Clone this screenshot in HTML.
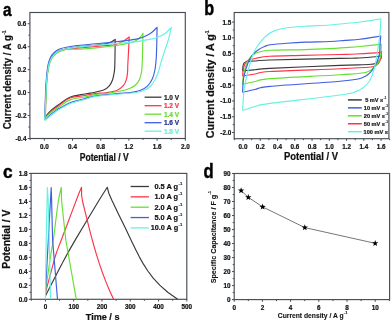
<!DOCTYPE html>
<html><head><meta charset="utf-8"><style>
html,body{margin:0;padding:0;background:#fff;}
svg{display:block;font-family:"Liberation Sans", sans-serif;will-change:transform;}
</style></head><body>
<svg width="392" height="322" viewBox="0 0 392 322">
<rect width="392" height="322" fill="#fff"/>
<text transform="translate(3.00,16.00) scale(0.870,1)" font-size="17.60" font-weight="bold" fill="#000" stroke="#000" stroke-width="0.45">a</text>
<text transform="translate(204.30,15.00) scale(0.830,1)" font-size="19.50" font-weight="bold" fill="#000" stroke="#000" stroke-width="0.45">b</text>
<text transform="translate(3.00,177.90) scale(0.920,1)" font-size="18.80" font-weight="bold" fill="#000" stroke="#000" stroke-width="0.45">c</text>
<text transform="translate(203.40,178.20) scale(0.850,1)" font-size="19.50" font-weight="bold" fill="#000" stroke="#000" stroke-width="0.45">d</text>
<rect x="29.90" y="12.50" width="155.40" height="126.00" fill="none" stroke="#474c56" stroke-width="1.15"/>
<line x1="30.20" y1="138.50" x2="30.20" y2="140.00" stroke="#474c56" stroke-width="1"/>
<line x1="44.30" y1="138.50" x2="44.30" y2="140.70" stroke="#474c56" stroke-width="1"/>
<line x1="58.40" y1="138.50" x2="58.40" y2="140.00" stroke="#474c56" stroke-width="1"/>
<line x1="72.50" y1="138.50" x2="72.50" y2="140.70" stroke="#474c56" stroke-width="1"/>
<line x1="86.60" y1="138.50" x2="86.60" y2="140.00" stroke="#474c56" stroke-width="1"/>
<line x1="100.70" y1="138.50" x2="100.70" y2="140.70" stroke="#474c56" stroke-width="1"/>
<line x1="114.80" y1="138.50" x2="114.80" y2="140.00" stroke="#474c56" stroke-width="1"/>
<line x1="128.90" y1="138.50" x2="128.90" y2="140.70" stroke="#474c56" stroke-width="1"/>
<line x1="143.00" y1="138.50" x2="143.00" y2="140.00" stroke="#474c56" stroke-width="1"/>
<line x1="157.10" y1="138.50" x2="157.10" y2="140.70" stroke="#474c56" stroke-width="1"/>
<line x1="171.20" y1="138.50" x2="171.20" y2="140.00" stroke="#474c56" stroke-width="1"/>
<line x1="185.30" y1="138.50" x2="185.30" y2="140.70" stroke="#474c56" stroke-width="1"/>
<line x1="27.70" y1="138.52" x2="29.90" y2="138.52" stroke="#474c56" stroke-width="1"/>
<line x1="28.40" y1="127.04" x2="29.90" y2="127.04" stroke="#474c56" stroke-width="1"/>
<line x1="27.70" y1="115.56" x2="29.90" y2="115.56" stroke="#474c56" stroke-width="1"/>
<line x1="28.40" y1="104.08" x2="29.90" y2="104.08" stroke="#474c56" stroke-width="1"/>
<line x1="27.70" y1="92.60" x2="29.90" y2="92.60" stroke="#474c56" stroke-width="1"/>
<line x1="28.40" y1="81.12" x2="29.90" y2="81.12" stroke="#474c56" stroke-width="1"/>
<line x1="27.70" y1="69.64" x2="29.90" y2="69.64" stroke="#474c56" stroke-width="1"/>
<line x1="28.40" y1="58.16" x2="29.90" y2="58.16" stroke="#474c56" stroke-width="1"/>
<line x1="27.70" y1="46.68" x2="29.90" y2="46.68" stroke="#474c56" stroke-width="1"/>
<line x1="28.40" y1="35.20" x2="29.90" y2="35.20" stroke="#474c56" stroke-width="1"/>
<line x1="27.70" y1="23.72" x2="29.90" y2="23.72" stroke="#474c56" stroke-width="1"/>
<text transform="translate(44.30,148.50) scale(0.920,1)" font-size="6.90" text-anchor="middle" font-weight="bold" fill="#111" stroke="#111" stroke-width="0.22">0.0</text>
<text transform="translate(72.50,148.50) scale(0.920,1)" font-size="6.90" text-anchor="middle" font-weight="bold" fill="#111" stroke="#111" stroke-width="0.22">0.4</text>
<text transform="translate(100.70,148.50) scale(0.920,1)" font-size="6.90" text-anchor="middle" font-weight="bold" fill="#111" stroke="#111" stroke-width="0.22">0.8</text>
<text transform="translate(128.90,148.50) scale(0.920,1)" font-size="6.90" text-anchor="middle" font-weight="bold" fill="#111" stroke="#111" stroke-width="0.22">1.2</text>
<text transform="translate(157.10,148.50) scale(0.920,1)" font-size="6.90" text-anchor="middle" font-weight="bold" fill="#111" stroke="#111" stroke-width="0.22">1.6</text>
<text transform="translate(185.30,148.50) scale(0.920,1)" font-size="6.90" text-anchor="middle" font-weight="bold" fill="#111" stroke="#111" stroke-width="0.22">2.0</text>
<text transform="translate(26.40,141.02) scale(0.920,1)" font-size="6.90" text-anchor="end" font-weight="bold" fill="#111" stroke="#111" stroke-width="0.22">-0.4</text>
<text transform="translate(26.40,118.06) scale(0.920,1)" font-size="6.90" text-anchor="end" font-weight="bold" fill="#111" stroke="#111" stroke-width="0.22">-0.2</text>
<text transform="translate(26.40,95.10) scale(0.920,1)" font-size="6.90" text-anchor="end" font-weight="bold" fill="#111" stroke="#111" stroke-width="0.22">0.0</text>
<text transform="translate(26.40,72.14) scale(0.920,1)" font-size="6.90" text-anchor="end" font-weight="bold" fill="#111" stroke="#111" stroke-width="0.22">0.2</text>
<text transform="translate(26.40,49.18) scale(0.920,1)" font-size="6.90" text-anchor="end" font-weight="bold" fill="#111" stroke="#111" stroke-width="0.22">0.4</text>
<text transform="translate(26.40,26.22) scale(0.920,1)" font-size="6.90" text-anchor="end" font-weight="bold" fill="#111" stroke="#111" stroke-width="0.22">0.6</text>
<text x="104.20" y="160.50" font-size="10.00" text-anchor="middle" font-weight="bold" fill="#111" textLength="49" lengthAdjust="spacingAndGlyphs" stroke="#111" stroke-width="0.22">Potential / V</text>
<text transform="translate(11.2,129.2) rotate(-90)" font-size="10.6" font-weight="bold" fill="#111" textLength="94.2" lengthAdjust="spacingAndGlyphs" stroke="#111" stroke-width="0.22">Current density / A g</text>
<text transform="translate(5.8,34.8) rotate(-90)" font-size="5.0" font-weight="bold" fill="#222" stroke="#222" stroke-width="0.1">-1</text>
<path d="M45.20 117.00 C45.27 114.17 45.37 106.17 45.60 100.00 C45.83 93.83 46.17 85.47 46.60 80.00 C47.03 74.53 47.63 70.42 48.20 67.20 C48.77 63.98 49.28 62.53 50.00 60.70 C50.72 58.87 51.50 57.53 52.50 56.20 C53.50 54.87 54.65 53.70 56.00 52.70 C57.35 51.70 58.60 50.90 60.60 50.20 C62.60 49.50 64.77 49.10 68.00 48.50 C71.23 47.90 75.33 47.15 80.00 46.60 C84.67 46.05 91.50 45.72 96.00 45.20 C100.50 44.68 104.33 44.12 107.00 43.50 C109.67 42.88 110.63 42.18 112.00 41.50 C113.37 40.82 114.67 39.75 115.20 39.40 L115.20 39.60 C115.17 42.17 115.08 50.27 115.00 55.00 C114.92 59.73 114.87 64.92 114.70 68.00 C114.53 71.08 114.38 71.47 114.00 73.50 C113.62 75.53 113.22 78.08 112.40 80.20 C111.58 82.32 110.55 84.57 109.10 86.20 C107.65 87.83 106.05 89.00 103.70 90.00 C101.35 91.00 98.12 91.53 95.00 92.20 C91.88 92.87 89.17 93.17 85.00 94.00 C80.83 94.83 74.33 95.47 70.00 97.20 C65.67 98.93 62.08 102.27 59.00 104.40 C55.92 106.53 53.80 107.90 51.50 110.00 C49.20 112.10 46.25 115.83 45.20 117.00" fill="none" stroke="#3a3a3a" stroke-width="1.15" stroke-linejoin="round"/>
<path d="M45.40 117.00 C45.47 114.17 45.57 106.17 45.80 100.00 C46.03 93.83 46.37 85.40 46.80 80.00 C47.23 74.60 47.83 70.75 48.40 67.60 C48.97 64.45 49.48 62.93 50.20 61.10 C50.92 59.27 51.70 57.93 52.70 56.60 C53.70 55.27 54.85 54.10 56.20 53.10 C57.55 52.10 58.80 51.30 60.80 50.60 C62.80 49.90 65.00 49.33 68.20 48.90 C71.40 48.47 75.37 48.40 80.00 48.00 C84.63 47.60 91.33 46.93 96.00 46.50 C100.67 46.07 104.78 45.73 108.00 45.40 C111.22 45.07 112.72 45.23 115.30 44.50 C117.88 43.77 121.18 42.27 123.50 41.00 C125.82 39.73 128.25 37.58 129.20 36.90 L129.20 36.80 C129.10 39.00 128.83 45.30 128.60 50.00 C128.37 54.70 127.97 61.42 127.80 65.00 C127.63 68.58 127.82 69.15 127.60 71.50 C127.38 73.85 127.22 76.73 126.50 79.10 C125.78 81.47 124.93 83.80 123.30 85.70 C121.67 87.60 119.60 89.33 116.70 90.50 C113.80 91.67 109.52 92.20 105.90 92.70 C102.28 93.20 98.48 93.03 95.00 93.50 C91.52 93.97 89.17 94.75 85.00 95.50 C80.83 96.25 74.33 96.33 70.00 98.00 C65.67 99.67 62.08 103.33 59.00 105.50 C55.92 107.67 53.77 109.08 51.50 111.00 C49.23 112.92 46.42 116.00 45.40 117.00" fill="none" stroke="#ff3348" stroke-width="1.15" stroke-linejoin="round"/>
<path d="M45.20 118.00 C45.32 115.00 45.62 106.33 45.90 100.00 C46.18 93.67 46.47 85.33 46.90 80.00 C47.33 74.67 47.93 71.08 48.50 68.00 C49.07 64.92 49.58 63.33 50.30 61.50 C51.02 59.67 51.80 58.33 52.80 57.00 C53.80 55.67 54.95 54.50 56.30 53.50 C57.65 52.50 58.90 51.70 60.90 51.00 C62.90 50.30 65.12 49.60 68.30 49.30 C71.48 49.00 75.38 49.43 80.00 49.20 C84.62 48.97 89.67 48.57 96.00 47.90 C102.33 47.23 112.43 46.03 118.00 45.20 C123.57 44.37 126.30 43.73 129.40 42.90 C132.50 42.07 134.75 41.22 136.60 40.20 C138.45 39.18 139.43 37.95 140.50 36.80 C141.57 35.65 142.58 33.88 143.00 33.30 L143.00 33.30 C142.93 36.08 142.80 43.88 142.60 50.00 C142.40 56.12 142.35 65.02 141.80 70.00 C141.25 74.98 140.43 77.32 139.30 79.90 C138.17 82.48 136.55 84.12 135.00 85.50 C133.45 86.88 131.78 87.42 130.00 88.20 C128.22 88.98 127.42 89.45 124.30 90.20 C121.18 90.95 116.18 91.97 111.30 92.70 C106.42 93.43 99.38 93.88 95.00 94.60 C90.62 95.32 89.17 96.12 85.00 97.00 C80.83 97.88 74.33 98.23 70.00 99.90 C65.67 101.57 62.08 104.98 59.00 107.00 C55.92 109.02 53.80 110.17 51.50 112.00 C49.20 113.83 46.25 117.00 45.20 118.00" fill="none" stroke="#66e030" stroke-width="1.15" stroke-linejoin="round"/>
<path d="M44.90 120.00 C44.97 116.67 45.07 106.67 45.30 100.00 C45.53 93.33 45.87 85.72 46.30 80.00 C46.73 74.28 47.33 69.17 47.90 65.70 C48.47 62.23 48.98 61.03 49.70 59.20 C50.42 57.37 51.20 56.03 52.20 54.70 C53.20 53.37 54.35 52.20 55.70 51.20 C57.05 50.20 58.30 49.40 60.30 48.70 C62.30 48.00 64.42 47.57 67.70 47.00 C70.98 46.43 75.28 45.83 80.00 45.30 C84.72 44.77 89.67 44.43 96.00 43.80 C102.33 43.17 112.43 42.12 118.00 41.50 C123.57 40.88 125.83 40.62 129.40 40.10 C132.97 39.58 136.53 39.15 139.40 38.40 C142.27 37.65 144.45 36.67 146.60 35.60 C148.75 34.53 150.55 33.38 152.30 32.00 C154.05 30.62 156.30 28.08 157.10 27.30 L157.10 27.30 C157.02 31.08 156.77 44.55 156.60 50.00 C156.43 55.45 156.38 56.67 156.10 60.00 C155.82 63.33 155.52 66.88 154.90 70.00 C154.28 73.12 153.65 76.02 152.40 78.70 C151.15 81.38 149.47 84.13 147.40 86.10 C145.33 88.07 142.90 89.42 140.00 90.50 C137.10 91.58 133.88 92.08 130.00 92.60 C126.12 93.12 122.53 93.03 116.70 93.60 C110.87 94.17 100.28 95.18 95.00 96.00 C89.72 96.82 89.17 97.38 85.00 98.50 C80.83 99.62 74.33 101.02 70.00 102.70 C65.67 104.38 62.08 106.72 59.00 108.60 C55.92 110.48 53.85 112.10 51.50 114.00 C49.15 115.90 46.00 119.00 44.90 120.00" fill="none" stroke="#3f5ee0" stroke-width="1.15" stroke-linejoin="round"/>
<path d="M44.80 120.50 C44.95 117.08 45.38 106.75 45.70 100.00 C46.02 93.25 46.27 85.45 46.70 80.00 C47.13 74.55 47.73 70.50 48.30 67.30 C48.87 64.10 49.38 62.63 50.10 60.80 C50.82 58.97 51.60 57.63 52.60 56.30 C53.60 54.97 54.75 53.80 56.10 52.80 C57.45 51.80 58.70 51.00 60.70 50.30 C62.70 49.60 64.88 49.22 68.10 48.60 C71.32 47.98 75.35 47.15 80.00 46.60 C84.65 46.05 89.67 45.83 96.00 45.30 C102.33 44.77 111.95 43.92 118.00 43.40 C124.05 42.88 127.53 42.78 132.30 42.20 C137.07 41.62 142.55 40.65 146.60 39.90 C150.65 39.15 153.52 38.78 156.60 37.70 C159.68 36.62 162.63 35.08 165.10 33.40 C167.57 31.72 170.35 28.57 171.40 27.60 L171.40 27.60 C170.88 29.67 169.37 36.27 168.30 40.00 C167.23 43.73 166.10 46.67 165.00 50.00 C163.90 53.33 162.77 56.47 161.70 60.00 C160.63 63.53 159.63 68.08 158.60 71.20 C157.57 74.32 156.75 76.32 155.50 78.70 C154.25 81.08 152.87 83.63 151.10 85.50 C149.33 87.37 147.38 88.73 144.90 89.90 C142.42 91.07 140.90 91.78 136.20 92.50 C131.50 93.22 123.57 93.53 116.70 94.20 C109.83 94.87 100.28 95.62 95.00 96.50 C89.72 97.38 89.17 98.30 85.00 99.50 C80.83 100.70 74.33 102.03 70.00 103.70 C65.67 105.37 62.08 107.62 59.00 109.50 C55.92 111.38 53.87 113.17 51.50 115.00 C49.13 116.83 45.92 119.58 44.80 120.50" fill="none" stroke="#66f2e2" stroke-width="1.15" stroke-linejoin="round"/>
<line x1="144.6" y1="97.20" x2="161.5" y2="97.20" stroke="#3a3a3a" stroke-width="1.3"/>
<text x="163.90" y="99.50" font-size="6.40" text-anchor="start" font-weight="bold" fill="#222" textLength="15.2" lengthAdjust="spacingAndGlyphs" stroke="#222" stroke-width="0.22">1.0 V</text>
<line x1="144.6" y1="105.70" x2="161.5" y2="105.70" stroke="#ff3348" stroke-width="1.3"/>
<text x="163.90" y="108.00" font-size="6.40" text-anchor="start" font-weight="bold" fill="#ff3348" textLength="15.2" lengthAdjust="spacingAndGlyphs" stroke="#ff3348" stroke-width="0.22">1.2 V</text>
<line x1="144.6" y1="114.20" x2="161.5" y2="114.20" stroke="#66e030" stroke-width="1.3"/>
<text x="163.90" y="116.50" font-size="6.40" text-anchor="start" font-weight="bold" fill="#66e030" textLength="15.2" lengthAdjust="spacingAndGlyphs" stroke="#66e030" stroke-width="0.22">1.4 V</text>
<line x1="144.6" y1="122.70" x2="161.5" y2="122.70" stroke="#3f5ee0" stroke-width="1.3"/>
<text x="163.90" y="125.00" font-size="6.40" text-anchor="start" font-weight="bold" fill="#223388" textLength="15.2" lengthAdjust="spacingAndGlyphs" stroke="#223388" stroke-width="0.22">1.6 V</text>
<line x1="144.6" y1="131.20" x2="161.5" y2="131.20" stroke="#66f2e2" stroke-width="1.3"/>
<text x="163.90" y="133.50" font-size="6.40" text-anchor="start" font-weight="bold" fill="#66f2e2" textLength="15.2" lengthAdjust="spacingAndGlyphs" stroke="#66f2e2" stroke-width="0.22">1.8 V</text>
<rect x="234.20" y="12.50" width="154.70" height="126.20" fill="none" stroke="#474c56" stroke-width="1.15"/>
<line x1="234.37" y1="138.70" x2="234.37" y2="140.20" stroke="#474c56" stroke-width="1"/>
<line x1="243.00" y1="138.70" x2="243.00" y2="140.90" stroke="#474c56" stroke-width="1"/>
<line x1="251.63" y1="138.70" x2="251.63" y2="140.20" stroke="#474c56" stroke-width="1"/>
<line x1="260.26" y1="138.70" x2="260.26" y2="140.90" stroke="#474c56" stroke-width="1"/>
<line x1="268.89" y1="138.70" x2="268.89" y2="140.20" stroke="#474c56" stroke-width="1"/>
<line x1="277.52" y1="138.70" x2="277.52" y2="140.90" stroke="#474c56" stroke-width="1"/>
<line x1="286.15" y1="138.70" x2="286.15" y2="140.20" stroke="#474c56" stroke-width="1"/>
<line x1="294.78" y1="138.70" x2="294.78" y2="140.90" stroke="#474c56" stroke-width="1"/>
<line x1="303.41" y1="138.70" x2="303.41" y2="140.20" stroke="#474c56" stroke-width="1"/>
<line x1="312.04" y1="138.70" x2="312.04" y2="140.90" stroke="#474c56" stroke-width="1"/>
<line x1="320.67" y1="138.70" x2="320.67" y2="140.20" stroke="#474c56" stroke-width="1"/>
<line x1="329.30" y1="138.70" x2="329.30" y2="140.90" stroke="#474c56" stroke-width="1"/>
<line x1="337.93" y1="138.70" x2="337.93" y2="140.20" stroke="#474c56" stroke-width="1"/>
<line x1="346.56" y1="138.70" x2="346.56" y2="140.90" stroke="#474c56" stroke-width="1"/>
<line x1="355.19" y1="138.70" x2="355.19" y2="140.20" stroke="#474c56" stroke-width="1"/>
<line x1="363.82" y1="138.70" x2="363.82" y2="140.90" stroke="#474c56" stroke-width="1"/>
<line x1="372.45" y1="138.70" x2="372.45" y2="140.20" stroke="#474c56" stroke-width="1"/>
<line x1="381.08" y1="138.70" x2="381.08" y2="140.90" stroke="#474c56" stroke-width="1"/>
<line x1="389.71" y1="138.70" x2="389.71" y2="140.20" stroke="#474c56" stroke-width="1"/>
<line x1="232.00" y1="132.50" x2="234.20" y2="132.50" stroke="#474c56" stroke-width="1"/>
<line x1="232.70" y1="124.61" x2="234.20" y2="124.61" stroke="#474c56" stroke-width="1"/>
<line x1="232.00" y1="116.73" x2="234.20" y2="116.73" stroke="#474c56" stroke-width="1"/>
<line x1="232.70" y1="108.84" x2="234.20" y2="108.84" stroke="#474c56" stroke-width="1"/>
<line x1="232.00" y1="100.95" x2="234.20" y2="100.95" stroke="#474c56" stroke-width="1"/>
<line x1="232.70" y1="93.06" x2="234.20" y2="93.06" stroke="#474c56" stroke-width="1"/>
<line x1="232.00" y1="85.18" x2="234.20" y2="85.18" stroke="#474c56" stroke-width="1"/>
<line x1="232.70" y1="77.29" x2="234.20" y2="77.29" stroke="#474c56" stroke-width="1"/>
<line x1="232.00" y1="69.40" x2="234.20" y2="69.40" stroke="#474c56" stroke-width="1"/>
<line x1="232.70" y1="61.51" x2="234.20" y2="61.51" stroke="#474c56" stroke-width="1"/>
<line x1="232.00" y1="53.63" x2="234.20" y2="53.63" stroke="#474c56" stroke-width="1"/>
<line x1="232.70" y1="45.74" x2="234.20" y2="45.74" stroke="#474c56" stroke-width="1"/>
<line x1="232.00" y1="37.85" x2="234.20" y2="37.85" stroke="#474c56" stroke-width="1"/>
<line x1="232.70" y1="29.96" x2="234.20" y2="29.96" stroke="#474c56" stroke-width="1"/>
<line x1="232.00" y1="22.08" x2="234.20" y2="22.08" stroke="#474c56" stroke-width="1"/>
<text transform="translate(243.00,148.70) scale(0.920,1)" font-size="6.90" text-anchor="middle" font-weight="bold" fill="#111" stroke="#111" stroke-width="0.22">0.0</text>
<text transform="translate(260.26,148.70) scale(0.920,1)" font-size="6.90" text-anchor="middle" font-weight="bold" fill="#111" stroke="#111" stroke-width="0.22">0.2</text>
<text transform="translate(277.52,148.70) scale(0.920,1)" font-size="6.90" text-anchor="middle" font-weight="bold" fill="#111" stroke="#111" stroke-width="0.22">0.4</text>
<text transform="translate(294.78,148.70) scale(0.920,1)" font-size="6.90" text-anchor="middle" font-weight="bold" fill="#111" stroke="#111" stroke-width="0.22">0.6</text>
<text transform="translate(312.04,148.70) scale(0.920,1)" font-size="6.90" text-anchor="middle" font-weight="bold" fill="#111" stroke="#111" stroke-width="0.22">0.8</text>
<text transform="translate(329.30,148.70) scale(0.920,1)" font-size="6.90" text-anchor="middle" font-weight="bold" fill="#111" stroke="#111" stroke-width="0.22">1.0</text>
<text transform="translate(346.56,148.70) scale(0.920,1)" font-size="6.90" text-anchor="middle" font-weight="bold" fill="#111" stroke="#111" stroke-width="0.22">1.2</text>
<text transform="translate(363.82,148.70) scale(0.920,1)" font-size="6.90" text-anchor="middle" font-weight="bold" fill="#111" stroke="#111" stroke-width="0.22">1.4</text>
<text transform="translate(381.08,148.70) scale(0.920,1)" font-size="6.90" text-anchor="middle" font-weight="bold" fill="#111" stroke="#111" stroke-width="0.22">1.6</text>
<text transform="translate(231.20,135.00) scale(0.920,1)" font-size="6.90" text-anchor="end" font-weight="bold" fill="#111" stroke="#111" stroke-width="0.22">-2.0</text>
<text transform="translate(231.20,119.23) scale(0.920,1)" font-size="6.90" text-anchor="end" font-weight="bold" fill="#111" stroke="#111" stroke-width="0.22">-1.5</text>
<text transform="translate(231.20,103.45) scale(0.920,1)" font-size="6.90" text-anchor="end" font-weight="bold" fill="#111" stroke="#111" stroke-width="0.22">-1.0</text>
<text transform="translate(231.20,87.68) scale(0.920,1)" font-size="6.90" text-anchor="end" font-weight="bold" fill="#111" stroke="#111" stroke-width="0.22">-0.5</text>
<text transform="translate(231.20,71.90) scale(0.920,1)" font-size="6.90" text-anchor="end" font-weight="bold" fill="#111" stroke="#111" stroke-width="0.22">0.0</text>
<text transform="translate(231.20,56.13) scale(0.920,1)" font-size="6.90" text-anchor="end" font-weight="bold" fill="#111" stroke="#111" stroke-width="0.22">0.5</text>
<text transform="translate(231.20,40.35) scale(0.920,1)" font-size="6.90" text-anchor="end" font-weight="bold" fill="#111" stroke="#111" stroke-width="0.22">1.0</text>
<text transform="translate(231.20,24.58) scale(0.920,1)" font-size="6.90" text-anchor="end" font-weight="bold" fill="#111" stroke="#111" stroke-width="0.22">1.5</text>
<text x="311.00" y="159.90" font-size="10.00" text-anchor="middle" font-weight="bold" fill="#111" textLength="54" lengthAdjust="spacingAndGlyphs" stroke="#111" stroke-width="0.22">Potential / V</text>
<text transform="translate(213.5,138.3) rotate(-90)" font-size="10" font-weight="bold" fill="#111" textLength="104" lengthAdjust="spacingAndGlyphs" stroke="#111" stroke-width="0.22">Current density / A g</text>
<text transform="translate(208.7,34.8) rotate(-90)" font-size="5.0" font-weight="bold" fill="#222" stroke="#222" stroke-width="0.1">-1</text>
<path d="M242.60 71.10 C242.67 70.25 242.77 67.33 243.00 66.00 C243.23 64.67 243.33 63.85 244.00 63.10 C244.67 62.35 245.17 61.85 247.00 61.50 C248.83 61.15 251.17 61.25 255.00 61.00 C258.83 60.75 255.83 60.43 270.00 60.00 C284.17 59.57 325.67 58.72 340.00 58.40 C354.33 58.08 350.67 58.33 356.00 58.10 C361.33 57.87 368.20 57.32 372.00 57.00 C375.80 56.68 377.30 56.45 378.80 56.20 C380.30 55.95 380.63 55.62 381.00 55.50 L381.00 55.50 C381.03 55.83 381.30 56.87 381.20 57.50 C381.10 58.13 381.10 58.47 380.40 59.30 C379.70 60.13 378.57 61.67 377.00 62.50 C375.43 63.33 377.17 63.82 371.00 64.30 C364.83 64.78 356.83 64.72 340.00 65.40 C323.17 66.08 284.17 67.68 270.00 68.40 C255.83 69.12 259.33 69.30 255.00 69.70 C250.67 70.10 246.07 70.57 244.00 70.80 C241.93 71.03 242.83 71.05 242.60 71.10" fill="none" stroke="#3a3a3a" stroke-width="1.15" stroke-linejoin="round"/>
<path d="M242.60 76.20 C242.75 74.83 242.77 70.53 243.50 68.00 C244.23 65.47 244.92 62.62 247.00 61.00 C249.08 59.38 252.17 59.08 256.00 58.30 C259.83 57.52 262.17 56.78 270.00 56.30 C277.83 55.82 291.33 55.70 303.00 55.40 C314.67 55.10 331.17 54.73 340.00 54.50 C348.83 54.27 349.53 54.32 356.00 54.00 C362.47 53.68 374.55 53.05 378.80 52.60 C383.05 52.15 381.05 51.52 381.50 51.30 L381.50 51.30 C381.47 51.92 381.63 53.22 381.30 55.00 C380.97 56.78 380.38 60.25 379.50 62.00 C378.62 63.75 377.42 64.67 376.00 65.50 C374.58 66.33 377.00 66.45 371.00 67.00 C365.00 67.55 356.83 68.05 340.00 68.80 C323.17 69.55 284.17 70.63 270.00 71.50 C255.83 72.37 259.33 73.28 255.00 74.00 C250.67 74.72 246.07 75.43 244.00 75.80 C241.93 76.17 242.83 76.13 242.60 76.20" fill="none" stroke="#ff3348" stroke-width="1.15" stroke-linejoin="round"/>
<path d="M242.60 84.20 C242.72 82.83 242.90 78.68 243.30 76.00 C243.70 73.32 244.05 70.93 245.00 68.10 C245.95 65.27 247.33 61.43 249.00 59.00 C250.67 56.57 252.80 54.78 255.00 53.50 C257.20 52.22 259.70 51.83 262.20 51.30 C264.70 50.77 262.87 50.58 270.00 50.30 C277.13 50.02 295.00 49.88 305.00 49.60 C315.00 49.32 323.33 48.93 330.00 48.60 C336.67 48.27 340.00 47.95 345.00 47.60 C350.00 47.25 354.83 46.95 360.00 46.50 C365.17 46.05 372.47 45.30 376.00 44.90 C379.53 44.50 380.33 44.23 381.20 44.10 L381.20 44.10 C381.17 45.42 381.28 49.35 381.00 52.00 C380.72 54.65 380.38 57.75 379.50 60.00 C378.62 62.25 377.88 63.45 375.70 65.50 C373.52 67.55 372.35 70.77 366.40 72.30 C360.45 73.83 356.07 73.65 340.00 74.70 C323.93 75.75 284.17 77.47 270.00 78.60 C255.83 79.73 259.33 80.60 255.00 81.50 C250.67 82.40 246.07 83.55 244.00 84.00 C241.93 84.45 242.83 84.17 242.60 84.20" fill="none" stroke="#66e030" stroke-width="1.15" stroke-linejoin="round"/>
<path d="M242.60 92.30 C242.67 90.92 242.77 86.68 243.00 84.00 C243.23 81.32 243.17 79.70 244.00 76.20 C244.83 72.70 246.67 66.45 248.00 63.00 C249.33 59.55 250.33 57.67 252.00 55.50 C253.67 53.33 255.83 51.53 258.00 50.00 C260.17 48.47 262.95 47.17 265.00 46.30 C267.05 45.43 266.65 45.32 270.30 44.80 C273.95 44.28 281.12 43.65 286.90 43.20 C292.68 42.75 297.82 42.38 305.00 42.10 C312.18 41.82 323.33 41.78 330.00 41.50 C336.67 41.22 340.00 40.78 345.00 40.40 C350.00 40.02 354.83 39.78 360.00 39.20 C365.17 38.62 372.53 37.45 376.00 36.90 C379.47 36.35 380.00 36.07 380.80 35.90 L380.80 35.90 C380.67 37.42 380.20 42.13 380.00 45.00 C379.80 47.87 380.05 50.45 379.60 53.10 C379.15 55.75 378.73 57.80 377.30 60.90 C375.87 64.00 373.60 68.85 371.00 71.70 C368.40 74.55 366.87 76.40 361.70 78.00 C356.53 79.60 355.28 79.90 340.00 81.30 C324.72 82.70 284.17 85.03 270.00 86.40 C255.83 87.77 259.33 88.57 255.00 89.50 C250.67 90.43 246.07 91.53 244.00 92.00 C241.93 92.47 242.83 92.25 242.60 92.30" fill="none" stroke="#3f5ee0" stroke-width="1.15" stroke-linejoin="round"/>
<path d="M242.60 110.40 C242.83 107.05 243.27 96.20 244.00 90.30 C244.73 84.40 245.92 79.72 247.00 75.00 C248.08 70.28 249.33 65.83 250.50 62.00 C251.67 58.17 252.72 54.83 254.00 52.00 C255.28 49.17 256.33 47.55 258.20 45.00 C260.07 42.45 262.55 39.05 265.20 36.70 C267.85 34.35 270.48 32.38 274.10 30.90 C277.72 29.42 281.75 28.57 286.90 27.80 C292.05 27.03 297.82 26.77 305.00 26.30 C312.18 25.83 323.33 25.47 330.00 25.00 C336.67 24.53 340.00 24.00 345.00 23.50 C350.00 23.00 355.50 22.52 360.00 22.00 C364.50 21.48 368.53 20.95 372.00 20.40 C375.47 19.85 379.33 18.98 380.80 18.70 L380.80 18.70 C380.68 21.02 380.62 27.43 380.10 32.60 C379.58 37.77 378.57 44.13 377.70 49.70 C376.83 55.27 376.27 60.78 374.90 66.00 C373.53 71.22 372.22 76.93 369.50 81.00 C366.78 85.07 363.52 88.07 358.60 90.40 C353.68 92.73 354.77 92.83 340.00 95.00 C325.23 97.17 284.17 101.48 270.00 103.40 C255.83 105.32 259.33 105.40 255.00 106.50 C250.67 107.60 246.07 109.35 244.00 110.00 C241.93 110.65 242.83 110.33 242.60 110.40" fill="none" stroke="#66f2e2" stroke-width="1.15" stroke-linejoin="round"/>
<line x1="347.9" y1="99.90" x2="361.8" y2="99.90" stroke="#3a3a3a" stroke-width="1.5"/>
<text x="365.20" y="101.90" font-size="5.60" text-anchor="start" font-weight="bold" fill="#1a1a1a"  stroke="#1a1a1a" stroke-width="0.22">5 mV s</text>
<text x="383.45" y="99.00" font-size="3.20" text-anchor="start" font-weight="bold" fill="#1a1a1a" stroke="#1a1a1a" stroke-width="0.1">-1</text>
<line x1="347.9" y1="107.85" x2="361.8" y2="107.85" stroke="#3f5ee0" stroke-width="1.5"/>
<text x="363.80" y="109.85" font-size="5.60" text-anchor="start" font-weight="bold" fill="#1a1a1a"  stroke="#1a1a1a" stroke-width="0.22">10 mV s</text>
<text x="385.17" y="106.95" font-size="3.20" text-anchor="start" font-weight="bold" fill="#1a1a1a" stroke="#1a1a1a" stroke-width="0.1">-1</text>
<line x1="347.9" y1="115.80" x2="361.8" y2="115.80" stroke="#66e030" stroke-width="1.5"/>
<text x="363.80" y="117.80" font-size="5.60" text-anchor="start" font-weight="bold" fill="#1a1a1a"  stroke="#1a1a1a" stroke-width="0.22">20 mV s</text>
<text x="385.17" y="114.90" font-size="3.20" text-anchor="start" font-weight="bold" fill="#1a1a1a" stroke="#1a1a1a" stroke-width="0.1">-1</text>
<line x1="347.9" y1="123.75" x2="361.8" y2="123.75" stroke="#ff3348" stroke-width="1.5"/>
<text x="363.80" y="125.75" font-size="5.60" text-anchor="start" font-weight="bold" fill="#1a1a1a"  stroke="#1a1a1a" stroke-width="0.22">50 mV s</text>
<text x="385.17" y="122.85" font-size="3.20" text-anchor="start" font-weight="bold" fill="#1a1a1a" stroke="#1a1a1a" stroke-width="0.1">-1</text>
<line x1="347.9" y1="131.70" x2="361.8" y2="131.70" stroke="#66f2e2" stroke-width="1.5"/>
<text x="363.60" y="133.70" font-size="5.60" text-anchor="start" font-weight="bold" fill="#1a1a1a"  stroke="#1a1a1a" stroke-width="0.22">100 mV s</text>
<rect x="31.10" y="173.40" width="155.70" height="125.90" fill="none" stroke="#474c56" stroke-width="1.15"/>
<line x1="31.26" y1="299.30" x2="31.26" y2="300.80" stroke="#474c56" stroke-width="1"/>
<line x1="45.40" y1="299.30" x2="45.40" y2="301.50" stroke="#474c56" stroke-width="1"/>
<line x1="59.54" y1="299.30" x2="59.54" y2="300.80" stroke="#474c56" stroke-width="1"/>
<line x1="73.68" y1="299.30" x2="73.68" y2="301.50" stroke="#474c56" stroke-width="1"/>
<line x1="87.82" y1="299.30" x2="87.82" y2="300.80" stroke="#474c56" stroke-width="1"/>
<line x1="101.96" y1="299.30" x2="101.96" y2="301.50" stroke="#474c56" stroke-width="1"/>
<line x1="116.10" y1="299.30" x2="116.10" y2="300.80" stroke="#474c56" stroke-width="1"/>
<line x1="130.24" y1="299.30" x2="130.24" y2="301.50" stroke="#474c56" stroke-width="1"/>
<line x1="144.38" y1="299.30" x2="144.38" y2="300.80" stroke="#474c56" stroke-width="1"/>
<line x1="158.52" y1="299.30" x2="158.52" y2="301.50" stroke="#474c56" stroke-width="1"/>
<line x1="172.66" y1="299.30" x2="172.66" y2="300.80" stroke="#474c56" stroke-width="1"/>
<line x1="186.80" y1="299.30" x2="186.80" y2="301.50" stroke="#474c56" stroke-width="1"/>
<line x1="28.90" y1="299.30" x2="31.10" y2="299.30" stroke="#474c56" stroke-width="1"/>
<line x1="29.60" y1="292.31" x2="31.10" y2="292.31" stroke="#474c56" stroke-width="1"/>
<line x1="28.90" y1="285.31" x2="31.10" y2="285.31" stroke="#474c56" stroke-width="1"/>
<line x1="29.60" y1="278.32" x2="31.10" y2="278.32" stroke="#474c56" stroke-width="1"/>
<line x1="28.90" y1="271.32" x2="31.10" y2="271.32" stroke="#474c56" stroke-width="1"/>
<line x1="29.60" y1="264.33" x2="31.10" y2="264.33" stroke="#474c56" stroke-width="1"/>
<line x1="28.90" y1="257.34" x2="31.10" y2="257.34" stroke="#474c56" stroke-width="1"/>
<line x1="29.60" y1="250.34" x2="31.10" y2="250.34" stroke="#474c56" stroke-width="1"/>
<line x1="28.90" y1="243.35" x2="31.10" y2="243.35" stroke="#474c56" stroke-width="1"/>
<line x1="29.60" y1="236.35" x2="31.10" y2="236.35" stroke="#474c56" stroke-width="1"/>
<line x1="28.90" y1="229.36" x2="31.10" y2="229.36" stroke="#474c56" stroke-width="1"/>
<line x1="29.60" y1="222.37" x2="31.10" y2="222.37" stroke="#474c56" stroke-width="1"/>
<line x1="28.90" y1="215.37" x2="31.10" y2="215.37" stroke="#474c56" stroke-width="1"/>
<line x1="29.60" y1="208.38" x2="31.10" y2="208.38" stroke="#474c56" stroke-width="1"/>
<line x1="28.90" y1="201.38" x2="31.10" y2="201.38" stroke="#474c56" stroke-width="1"/>
<line x1="29.60" y1="194.39" x2="31.10" y2="194.39" stroke="#474c56" stroke-width="1"/>
<line x1="28.90" y1="187.40" x2="31.10" y2="187.40" stroke="#474c56" stroke-width="1"/>
<line x1="29.60" y1="180.40" x2="31.10" y2="180.40" stroke="#474c56" stroke-width="1"/>
<line x1="28.90" y1="173.41" x2="31.10" y2="173.41" stroke="#474c56" stroke-width="1"/>
<text transform="translate(45.40,309.00) scale(0.920,1)" font-size="6.90" text-anchor="middle" font-weight="bold" fill="#111" stroke="#111" stroke-width="0.22">0</text>
<text transform="translate(73.68,309.00) scale(0.920,1)" font-size="6.90" text-anchor="middle" font-weight="bold" fill="#111" stroke="#111" stroke-width="0.22">100</text>
<text transform="translate(101.96,309.00) scale(0.920,1)" font-size="6.90" text-anchor="middle" font-weight="bold" fill="#111" stroke="#111" stroke-width="0.22">200</text>
<text transform="translate(130.24,309.00) scale(0.920,1)" font-size="6.90" text-anchor="middle" font-weight="bold" fill="#111" stroke="#111" stroke-width="0.22">300</text>
<text transform="translate(158.52,309.00) scale(0.920,1)" font-size="6.90" text-anchor="middle" font-weight="bold" fill="#111" stroke="#111" stroke-width="0.22">400</text>
<text transform="translate(186.80,309.00) scale(0.920,1)" font-size="6.90" text-anchor="middle" font-weight="bold" fill="#111" stroke="#111" stroke-width="0.22">500</text>
<text transform="translate(27.50,301.80) scale(0.920,1)" font-size="6.90" text-anchor="end" font-weight="bold" fill="#111" stroke="#111" stroke-width="0.22">0.0</text>
<text transform="translate(27.50,287.81) scale(0.920,1)" font-size="6.90" text-anchor="end" font-weight="bold" fill="#111" stroke="#111" stroke-width="0.22">0.2</text>
<text transform="translate(27.50,273.82) scale(0.920,1)" font-size="6.90" text-anchor="end" font-weight="bold" fill="#111" stroke="#111" stroke-width="0.22">0.4</text>
<text transform="translate(27.50,259.84) scale(0.920,1)" font-size="6.90" text-anchor="end" font-weight="bold" fill="#111" stroke="#111" stroke-width="0.22">0.6</text>
<text transform="translate(27.50,245.85) scale(0.920,1)" font-size="6.90" text-anchor="end" font-weight="bold" fill="#111" stroke="#111" stroke-width="0.22">0.8</text>
<text transform="translate(27.50,231.86) scale(0.920,1)" font-size="6.90" text-anchor="end" font-weight="bold" fill="#111" stroke="#111" stroke-width="0.22">1.0</text>
<text transform="translate(27.50,217.87) scale(0.920,1)" font-size="6.90" text-anchor="end" font-weight="bold" fill="#111" stroke="#111" stroke-width="0.22">1.2</text>
<text transform="translate(27.50,203.88) scale(0.920,1)" font-size="6.90" text-anchor="end" font-weight="bold" fill="#111" stroke="#111" stroke-width="0.22">1.4</text>
<text transform="translate(27.50,189.90) scale(0.920,1)" font-size="6.90" text-anchor="end" font-weight="bold" fill="#111" stroke="#111" stroke-width="0.22">1.6</text>
<text transform="translate(27.50,175.91) scale(0.920,1)" font-size="6.90" text-anchor="end" font-weight="bold" fill="#111" stroke="#111" stroke-width="0.22">1.8</text>
<text x="102.60" y="320.30" font-size="9.20" text-anchor="middle" font-weight="bold" fill="#111" textLength="33.7" lengthAdjust="spacingAndGlyphs" stroke="#111" stroke-width="0.22">Time / s</text>
<text transform="translate(10.0,268.7) rotate(-90)" font-size="10" font-weight="bold" fill="#111" textLength="59" lengthAdjust="spacingAndGlyphs" stroke="#111" stroke-width="0.22">Potential / V</text>
<path d="M45.50 295.70 C48.52 289.87 58.68 269.92 63.60 260.70 C68.52 251.48 69.27 250.18 75.00 240.40 C80.73 230.62 92.62 210.85 98.00 202.00 C103.38 193.15 105.75 189.75 107.30 187.30 L108.81 193.20 L111.88 200.27 L115.22 207.35 L118.68 214.42 L122.16 221.49 L125.59 228.57 L128.98 235.64 L132.34 242.71 L135.75 249.79 L139.35 256.86 L143.31 263.93 L147.84 271.01 L153.21 278.08 L159.72 285.15 L167.74 292.23 L177.67 299.30" fill="none" stroke="#3a3a3a" stroke-width="1.15" stroke-linejoin="round"/>
<path d="M45.60 292.00 C46.42 289.00 48.82 280.17 50.50 274.00 C52.18 267.83 53.90 260.67 55.70 255.00 C57.50 249.33 59.42 245.00 61.30 240.00 C63.18 235.00 64.17 232.50 67.00 225.00 C69.83 217.50 75.88 201.28 78.30 195.00 C80.72 188.72 80.97 188.58 81.50 187.30 L81.60 195.50 L82.72 202.00 L84.90 210.85 L87.08 219.69 L89.30 228.54 L91.60 237.38 L94.03 246.23 L96.62 255.07 L99.43 263.92 L102.49 272.76 L105.84 281.61 L109.53 290.45 L113.60 299.30" fill="none" stroke="#ff3348" stroke-width="1.15" stroke-linejoin="round"/>
<path d="M45.60 290.70 C46.45 284.75 49.42 263.45 50.70 255.00 C51.98 246.55 52.05 248.83 53.30 240.00 C54.55 231.17 56.87 210.78 58.20 202.00 C59.53 193.22 60.78 189.75 61.30 187.30 L61.60 201.00 L65.80 240.00 L76.30 299.30" fill="none" stroke="#66e030" stroke-width="1.15" stroke-linejoin="round"/>
<path d="M45.50 292.00 C45.97 283.33 47.35 257.42 48.30 240.00 C49.25 222.58 50.72 196.25 51.20 187.50 L51.50 196.00 L52.60 240.00 L57.50 299.30" fill="none" stroke="#3f5ee0" stroke-width="1.15" stroke-linejoin="round"/>
<path d="M45.40 299.30 C45.53 289.42 45.87 258.62 46.20 240.00 C46.53 221.38 47.20 196.33 47.40 187.60 L48.20 200.00 L50.60 299.30" fill="none" stroke="#66f2e2" stroke-width="1.15" stroke-linejoin="round"/>
<line x1="130.6" y1="186.50" x2="148.9" y2="186.50" stroke="#3a3a3a" stroke-width="1.3"/>
<text x="154.40" y="189.00" font-size="8.00" text-anchor="start" font-weight="bold" fill="#111" textLength="23.7" lengthAdjust="spacingAndGlyphs" stroke="#111" stroke-width="0.22">0.5 A g</text>
<text x="178.50" y="185.00" font-size="4.20" text-anchor="start" font-weight="bold" fill="#111" stroke="#111" stroke-width="0.1">-1</text>
<line x1="130.6" y1="196.85" x2="148.9" y2="196.85" stroke="#ff3348" stroke-width="1.3"/>
<text x="154.40" y="199.35" font-size="8.00" text-anchor="start" font-weight="bold" fill="#111" textLength="23.7" lengthAdjust="spacingAndGlyphs" stroke="#111" stroke-width="0.22">1.0 A g</text>
<text x="178.50" y="195.35" font-size="4.20" text-anchor="start" font-weight="bold" fill="#111" stroke="#111" stroke-width="0.1">-1</text>
<line x1="130.6" y1="207.20" x2="148.9" y2="207.20" stroke="#66e030" stroke-width="1.3"/>
<text x="154.40" y="209.70" font-size="8.00" text-anchor="start" font-weight="bold" fill="#111" textLength="23.7" lengthAdjust="spacingAndGlyphs" stroke="#111" stroke-width="0.22">2.0 A g</text>
<text x="178.50" y="205.70" font-size="4.20" text-anchor="start" font-weight="bold" fill="#111" stroke="#111" stroke-width="0.1">-1</text>
<line x1="130.6" y1="217.55" x2="148.9" y2="217.55" stroke="#3f5ee0" stroke-width="1.3"/>
<text x="154.40" y="220.05" font-size="8.00" text-anchor="start" font-weight="bold" fill="#111" textLength="23.7" lengthAdjust="spacingAndGlyphs" stroke="#111" stroke-width="0.22">5.0 A g</text>
<text x="178.50" y="216.05" font-size="4.20" text-anchor="start" font-weight="bold" fill="#111" stroke="#111" stroke-width="0.1">-1</text>
<line x1="130.6" y1="227.90" x2="148.9" y2="227.90" stroke="#66f2e2" stroke-width="1.3"/>
<text x="150.70" y="230.40" font-size="8.00" text-anchor="start" font-weight="bold" fill="#111" textLength="27.4" lengthAdjust="spacingAndGlyphs" stroke="#111" stroke-width="0.22">10.0 A g</text>
<text x="178.50" y="226.40" font-size="4.20" text-anchor="start" font-weight="bold" fill="#111" stroke="#111" stroke-width="0.1">-1</text>
<rect x="234.20" y="173.50" width="155.40" height="126.10" fill="none" stroke="#474c56" stroke-width="1.15"/>
<line x1="234.20" y1="299.60" x2="234.20" y2="301.80" stroke="#474c56" stroke-width="1"/>
<line x1="248.30" y1="299.60" x2="248.30" y2="301.10" stroke="#474c56" stroke-width="1"/>
<line x1="262.40" y1="299.60" x2="262.40" y2="301.80" stroke="#474c56" stroke-width="1"/>
<line x1="276.50" y1="299.60" x2="276.50" y2="301.10" stroke="#474c56" stroke-width="1"/>
<line x1="290.60" y1="299.60" x2="290.60" y2="301.80" stroke="#474c56" stroke-width="1"/>
<line x1="304.70" y1="299.60" x2="304.70" y2="301.10" stroke="#474c56" stroke-width="1"/>
<line x1="318.80" y1="299.60" x2="318.80" y2="301.80" stroke="#474c56" stroke-width="1"/>
<line x1="332.90" y1="299.60" x2="332.90" y2="301.10" stroke="#474c56" stroke-width="1"/>
<line x1="347.00" y1="299.60" x2="347.00" y2="301.80" stroke="#474c56" stroke-width="1"/>
<line x1="361.10" y1="299.60" x2="361.10" y2="301.10" stroke="#474c56" stroke-width="1"/>
<line x1="375.20" y1="299.60" x2="375.20" y2="301.80" stroke="#474c56" stroke-width="1"/>
<line x1="389.30" y1="299.60" x2="389.30" y2="301.10" stroke="#474c56" stroke-width="1"/>
<line x1="232.00" y1="299.60" x2="234.20" y2="299.60" stroke="#474c56" stroke-width="1"/>
<line x1="232.70" y1="292.60" x2="234.20" y2="292.60" stroke="#474c56" stroke-width="1"/>
<line x1="232.00" y1="285.59" x2="234.20" y2="285.59" stroke="#474c56" stroke-width="1"/>
<line x1="232.70" y1="278.59" x2="234.20" y2="278.59" stroke="#474c56" stroke-width="1"/>
<line x1="232.00" y1="271.58" x2="234.20" y2="271.58" stroke="#474c56" stroke-width="1"/>
<line x1="232.70" y1="264.58" x2="234.20" y2="264.58" stroke="#474c56" stroke-width="1"/>
<line x1="232.00" y1="257.57" x2="234.20" y2="257.57" stroke="#474c56" stroke-width="1"/>
<line x1="232.70" y1="250.57" x2="234.20" y2="250.57" stroke="#474c56" stroke-width="1"/>
<line x1="232.00" y1="243.56" x2="234.20" y2="243.56" stroke="#474c56" stroke-width="1"/>
<line x1="232.70" y1="236.56" x2="234.20" y2="236.56" stroke="#474c56" stroke-width="1"/>
<line x1="232.00" y1="229.55" x2="234.20" y2="229.55" stroke="#474c56" stroke-width="1"/>
<line x1="232.70" y1="222.55" x2="234.20" y2="222.55" stroke="#474c56" stroke-width="1"/>
<line x1="232.00" y1="215.54" x2="234.20" y2="215.54" stroke="#474c56" stroke-width="1"/>
<line x1="232.70" y1="208.54" x2="234.20" y2="208.54" stroke="#474c56" stroke-width="1"/>
<line x1="232.00" y1="201.53" x2="234.20" y2="201.53" stroke="#474c56" stroke-width="1"/>
<line x1="232.70" y1="194.53" x2="234.20" y2="194.53" stroke="#474c56" stroke-width="1"/>
<line x1="232.00" y1="187.52" x2="234.20" y2="187.52" stroke="#474c56" stroke-width="1"/>
<line x1="232.70" y1="180.52" x2="234.20" y2="180.52" stroke="#474c56" stroke-width="1"/>
<line x1="232.00" y1="173.51" x2="234.20" y2="173.51" stroke="#474c56" stroke-width="1"/>
<text transform="translate(234.20,310.00) scale(0.920,1)" font-size="6.90" text-anchor="middle" font-weight="bold" fill="#111" stroke="#111" stroke-width="0.22">0</text>
<text transform="translate(262.40,310.00) scale(0.920,1)" font-size="6.90" text-anchor="middle" font-weight="bold" fill="#111" stroke="#111" stroke-width="0.22">2</text>
<text transform="translate(290.60,310.00) scale(0.920,1)" font-size="6.90" text-anchor="middle" font-weight="bold" fill="#111" stroke="#111" stroke-width="0.22">4</text>
<text transform="translate(318.80,310.00) scale(0.920,1)" font-size="6.90" text-anchor="middle" font-weight="bold" fill="#111" stroke="#111" stroke-width="0.22">6</text>
<text transform="translate(347.00,310.00) scale(0.920,1)" font-size="6.90" text-anchor="middle" font-weight="bold" fill="#111" stroke="#111" stroke-width="0.22">8</text>
<text transform="translate(375.20,310.00) scale(0.920,1)" font-size="6.90" text-anchor="middle" font-weight="bold" fill="#111" stroke="#111" stroke-width="0.22">10</text>
<text transform="translate(230.60,302.10) scale(0.920,1)" font-size="6.90" text-anchor="end" font-weight="bold" fill="#111" stroke="#111" stroke-width="0.22">0</text>
<text transform="translate(230.60,288.09) scale(0.920,1)" font-size="6.90" text-anchor="end" font-weight="bold" fill="#111" stroke="#111" stroke-width="0.22">10</text>
<text transform="translate(230.60,274.08) scale(0.920,1)" font-size="6.90" text-anchor="end" font-weight="bold" fill="#111" stroke="#111" stroke-width="0.22">20</text>
<text transform="translate(230.60,260.07) scale(0.920,1)" font-size="6.90" text-anchor="end" font-weight="bold" fill="#111" stroke="#111" stroke-width="0.22">30</text>
<text transform="translate(230.60,246.06) scale(0.920,1)" font-size="6.90" text-anchor="end" font-weight="bold" fill="#111" stroke="#111" stroke-width="0.22">40</text>
<text transform="translate(230.60,232.05) scale(0.920,1)" font-size="6.90" text-anchor="end" font-weight="bold" fill="#111" stroke="#111" stroke-width="0.22">50</text>
<text transform="translate(230.60,218.04) scale(0.920,1)" font-size="6.90" text-anchor="end" font-weight="bold" fill="#111" stroke="#111" stroke-width="0.22">60</text>
<text transform="translate(230.60,204.03) scale(0.920,1)" font-size="6.90" text-anchor="end" font-weight="bold" fill="#111" stroke="#111" stroke-width="0.22">70</text>
<text transform="translate(230.60,190.02) scale(0.920,1)" font-size="6.90" text-anchor="end" font-weight="bold" fill="#111" stroke="#111" stroke-width="0.22">80</text>
<text transform="translate(230.60,176.01) scale(0.920,1)" font-size="6.90" text-anchor="end" font-weight="bold" fill="#111" stroke="#111" stroke-width="0.22">90</text>
<text x="0.00" y="0.00" font-size="7.20" text-anchor="start" font-weight="bold" fill="#111" transform="translate(277.8,318)" textLength="65.7" lengthAdjust="spacingAndGlyphs" stroke="#111" stroke-width="0.1">Current density / A g</text>
<text x="343.80" y="314.20" font-size="4.00" text-anchor="start" font-weight="bold" fill="#111" stroke="#111" stroke-width="0.1">-1</text>
<text transform="translate(215.5,283.3) rotate(-90)" font-size="7.6" font-weight="bold" fill="#111" textLength="88.5" lengthAdjust="spacingAndGlyphs" stroke="#111" stroke-width="0.1">Specific Capacitance / F g</text>
<text x="0.00" y="0.00" font-size="4.00" text-anchor="start" font-weight="bold" fill="#111" transform="translate(210.9,194.5) rotate(-90)" stroke="#111" stroke-width="0.1">-1</text>
<polyline points="241.10,190.60 248.30,197.30 262.60,206.90 304.80,227.60 375.20,243.30" fill="none" stroke="#666" stroke-width="0.9"/>
<polygon points="241.10,187.30 241.89,189.51 244.24,189.58 242.38,191.02 243.04,193.27 241.10,191.95 239.16,193.27 239.82,191.02 237.96,189.58 240.31,189.51" fill="#000"/>
<polygon points="248.30,194.00 249.09,196.21 251.44,196.28 249.58,197.72 250.24,199.97 248.30,198.65 246.36,199.97 247.02,197.72 245.16,196.28 247.51,196.21" fill="#000"/>
<polygon points="262.60,203.60 263.39,205.81 265.74,205.88 263.88,207.32 264.54,209.57 262.60,208.25 260.66,209.57 261.32,207.32 259.46,205.88 261.81,205.81" fill="#000"/>
<polygon points="304.80,224.30 305.59,226.51 307.94,226.58 306.08,228.02 306.74,230.27 304.80,228.95 302.86,230.27 303.52,228.02 301.66,226.58 304.01,226.51" fill="#000"/>
<polygon points="375.20,240.00 375.99,242.21 378.34,242.28 376.48,243.72 377.14,245.97 375.20,244.65 373.26,245.97 373.92,243.72 372.06,242.28 374.41,242.21" fill="#000"/>
</svg>
</body></html>
